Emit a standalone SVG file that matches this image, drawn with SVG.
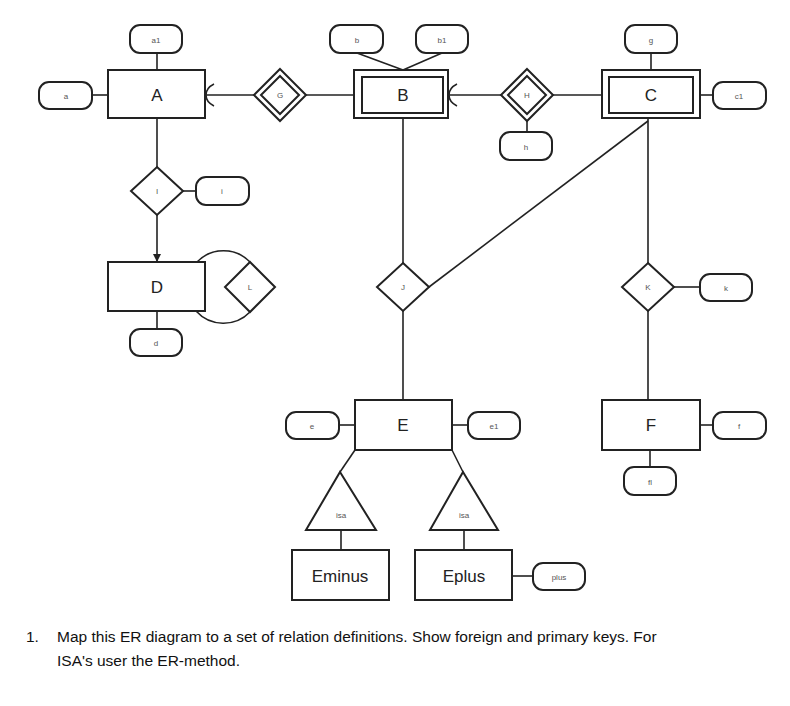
<svg xmlns="http://www.w3.org/2000/svg" width="790" height="706" viewBox="0 0 790 706">
<style>
.e{fill:#fff;stroke:#222;stroke-width:2}
.o{fill:#fff;stroke:#222;stroke-width:2}
.l{fill:none;stroke:#222;stroke-width:1.6}
.t{font-family:"Liberation Sans",Arial,sans-serif;font-size:17px;fill:#222;text-anchor:middle}
.s{font-family:"Liberation Sans",Arial,sans-serif;font-size:8px;fill:#555;text-anchor:middle}
.c{font-family:"Liberation Sans",Arial,sans-serif;font-size:15.5px;fill:#111}
</style>
<defs><marker id="ar" viewBox="0 0 10 10" refX="10" refY="5" markerWidth="5" markerHeight="5" orient="auto"><path d="M0,0L10,5L0,10z" fill="#222"/></marker></defs>
<rect width="790" height="706" fill="#fff"/>
<g id="connectors" class="l">
<line x1="157" y1="53" x2="157" y2="70"/><line x1="92" y1="95" x2="108" y2="95"/>
<line x1="205" y1="95" x2="254" y2="95"/><line x1="306" y1="95" x2="354" y2="95"/>
<path d="M214,84 Q206,88 206,95 Q206,102 214,106"/>
<path d="M457,84 Q449,88 449,95 Q449,102 457,106"/>
<line x1="357" y1="53" x2="403" y2="70"/><line x1="442" y1="53" x2="403" y2="70"/>
<line x1="448" y1="95" x2="501" y2="95"/><line x1="553" y1="95" x2="602" y2="95"/>
<line x1="527" y1="121" x2="527" y2="132"/>
<line x1="651" y1="53" x2="651" y2="70"/><line x1="700" y1="95" x2="713" y2="95"/>
<line x1="157" y1="118" x2="157" y2="167"/><line x1="183" y1="191" x2="196" y2="191"/>
<line x1="157" y1="215" x2="157" y2="262" marker-end="url(#ar)"/>
<path d="M197,262 A37,37 0 0 1 250,262"/><path d="M196,311 A37,37 0 0 0 250,312"/>
<line x1="157" y1="311" x2="157" y2="329"/>
<line x1="403" y1="118" x2="403" y2="263"/><line x1="648" y1="121" x2="429" y2="287"/>
<line x1="403" y1="311" x2="403" y2="400"/>
<line x1="648" y1="118" x2="648" y2="263"/><line x1="674" y1="287" x2="700" y2="287"/>
<line x1="648" y1="311" x2="648" y2="400"/>
<line x1="700" y1="425" x2="713" y2="425"/><line x1="650" y1="450" x2="650" y2="467"/>
<line x1="339" y1="425" x2="355" y2="425"/><line x1="452" y1="425" x2="468" y2="425"/>
<line x1="355" y1="450" x2="340" y2="472"/><line x1="452" y1="450" x2="463" y2="472"/>
<line x1="341" y1="530" x2="341" y2="550"/><line x1="464" y1="530" x2="464" y2="550"/>
<line x1="512" y1="576" x2="533" y2="576"/>
</g>
<g id="a1"><rect class="o" x="130" y="25" width="52" height="28" rx="10"/><text class="s" x="156" y="43">a1</text></g>
<g id="a"><rect class="o" x="39" y="82" width="53" height="27" rx="10"/><text class="s" x="66" y="99">a</text></g>
<g id="A"><rect class="e" x="108" y="70" width="97" height="48"/><text class="t" x="157" y="101">A</text></g>
<g id="G"><polygon class="e" points="280,69 306,95 280,121 254,95"/><polygon class="e" points="280,76 299,95 280,114 261,95"/><text class="s" x="280" y="98">G</text></g>
<g id="b"><rect class="o" x="330" y="25" width="53" height="28" rx="10"/><text class="s" x="357" y="43">b</text></g>
<g id="b1"><rect class="o" x="416" y="25" width="52" height="28" rx="10"/><text class="s" x="442" y="43">b1</text></g>
<g id="B"><rect class="e" x="354" y="70" width="94" height="48"/><rect class="e" x="362" y="77" width="81" height="36"/><text class="t" x="403" y="101">B</text></g>
<g id="H"><polygon class="e" points="527,69 553,95 527,121 501,95"/><polygon class="e" points="527,76 546,95 527,114 508,95"/><text class="s" x="527" y="98">H</text></g>
<g id="h"><rect class="o" x="500" y="132" width="52" height="28" rx="10"/><text class="s" x="526" y="150">h</text></g>
<g id="g"><rect class="o" x="625" y="25" width="52" height="28" rx="10"/><text class="s" x="651" y="43">g</text></g>
<g id="C"><rect class="e" x="602" y="70" width="98" height="48"/><rect class="e" x="609" y="77" width="84" height="36"/><text class="t" x="651" y="101">C</text></g>
<g id="c1"><rect class="o" x="713" y="82" width="53" height="27" rx="10"/><text class="s" x="739" y="99">c1</text></g>
<g id="I"><polygon class="e" points="157,167 183,191 157,215 131,191"/><text class="s" x="157" y="194">I</text></g>
<g id="i"><rect class="o" x="196" y="177" width="53" height="28" rx="10"/><text class="s" x="222" y="194">i</text></g>
<g id="D"><rect class="e" x="108" y="262" width="97" height="49"/><text class="t" x="157" y="293">D</text></g>
<g id="L"><polygon class="e" points="250,262 275,287 250,312 225,287"/><text class="s" x="250" y="290">L</text></g>
<g id="d"><rect class="o" x="130" y="329" width="52" height="27" rx="10"/><text class="s" x="156" y="346">d</text></g>
<g id="J"><polygon class="e" points="403,263 429,287 403,311 377,287"/><text class="s" x="403" y="290">J</text></g>
<g id="K"><polygon class="e" points="648,263 674,287 648,311 622,287"/><text class="s" x="648" y="290">K</text></g>
<g id="k"><rect class="o" x="700" y="274" width="52" height="27" rx="10"/><text class="s" x="726" y="291">k</text></g>
<g id="E"><rect class="e" x="355" y="400" width="97" height="50"/><text class="t" x="403" y="431">E</text></g>
<g id="e"><rect class="o" x="286" y="412" width="53" height="27" rx="10"/><text class="s" x="312" y="429">e</text></g>
<g id="e1"><rect class="o" x="468" y="412" width="52" height="27" rx="10"/><text class="s" x="494" y="429">e1</text></g>
<g id="F"><rect class="e" x="602" y="400" width="98" height="50"/><text class="t" x="651" y="431">F</text></g>
<g id="f"><rect class="o" x="713" y="412" width="53" height="27" rx="10"/><text class="s" x="739" y="429">f</text></g>
<g id="fl"><rect class="o" x="624" y="467" width="52" height="28" rx="10"/><text class="s" x="650" y="485">fl</text></g>
<g id="isa1"><polygon class="e" points="340,472 376,530 306,530"/><text class="s" x="341" y="518">isa</text></g>
<g id="isa2"><polygon class="e" points="463,472 498,530 430,530"/><text class="s" x="464" y="518">isa</text></g>
<g id="Eminus"><rect class="e" x="292" y="550" width="97" height="50"/><text class="t" x="340" y="582">Eminus</text></g>
<g id="Eplus"><rect class="e" x="415" y="550" width="97" height="50"/><text class="t" x="464" y="582">Eplus</text></g>
<g id="plus"><rect class="o" x="533" y="563" width="52" height="27" rx="10"/><text class="s" x="559" y="580">plus</text></g>
<text class="c" x="26" y="642">1.</text>
<text class="c" x="57" y="642">Map this ER diagram to a set of relation definitions. Show foreign and primary keys. For</text>
<text class="c" x="57" y="666">ISA's user the ER-method.</text>
</svg>
